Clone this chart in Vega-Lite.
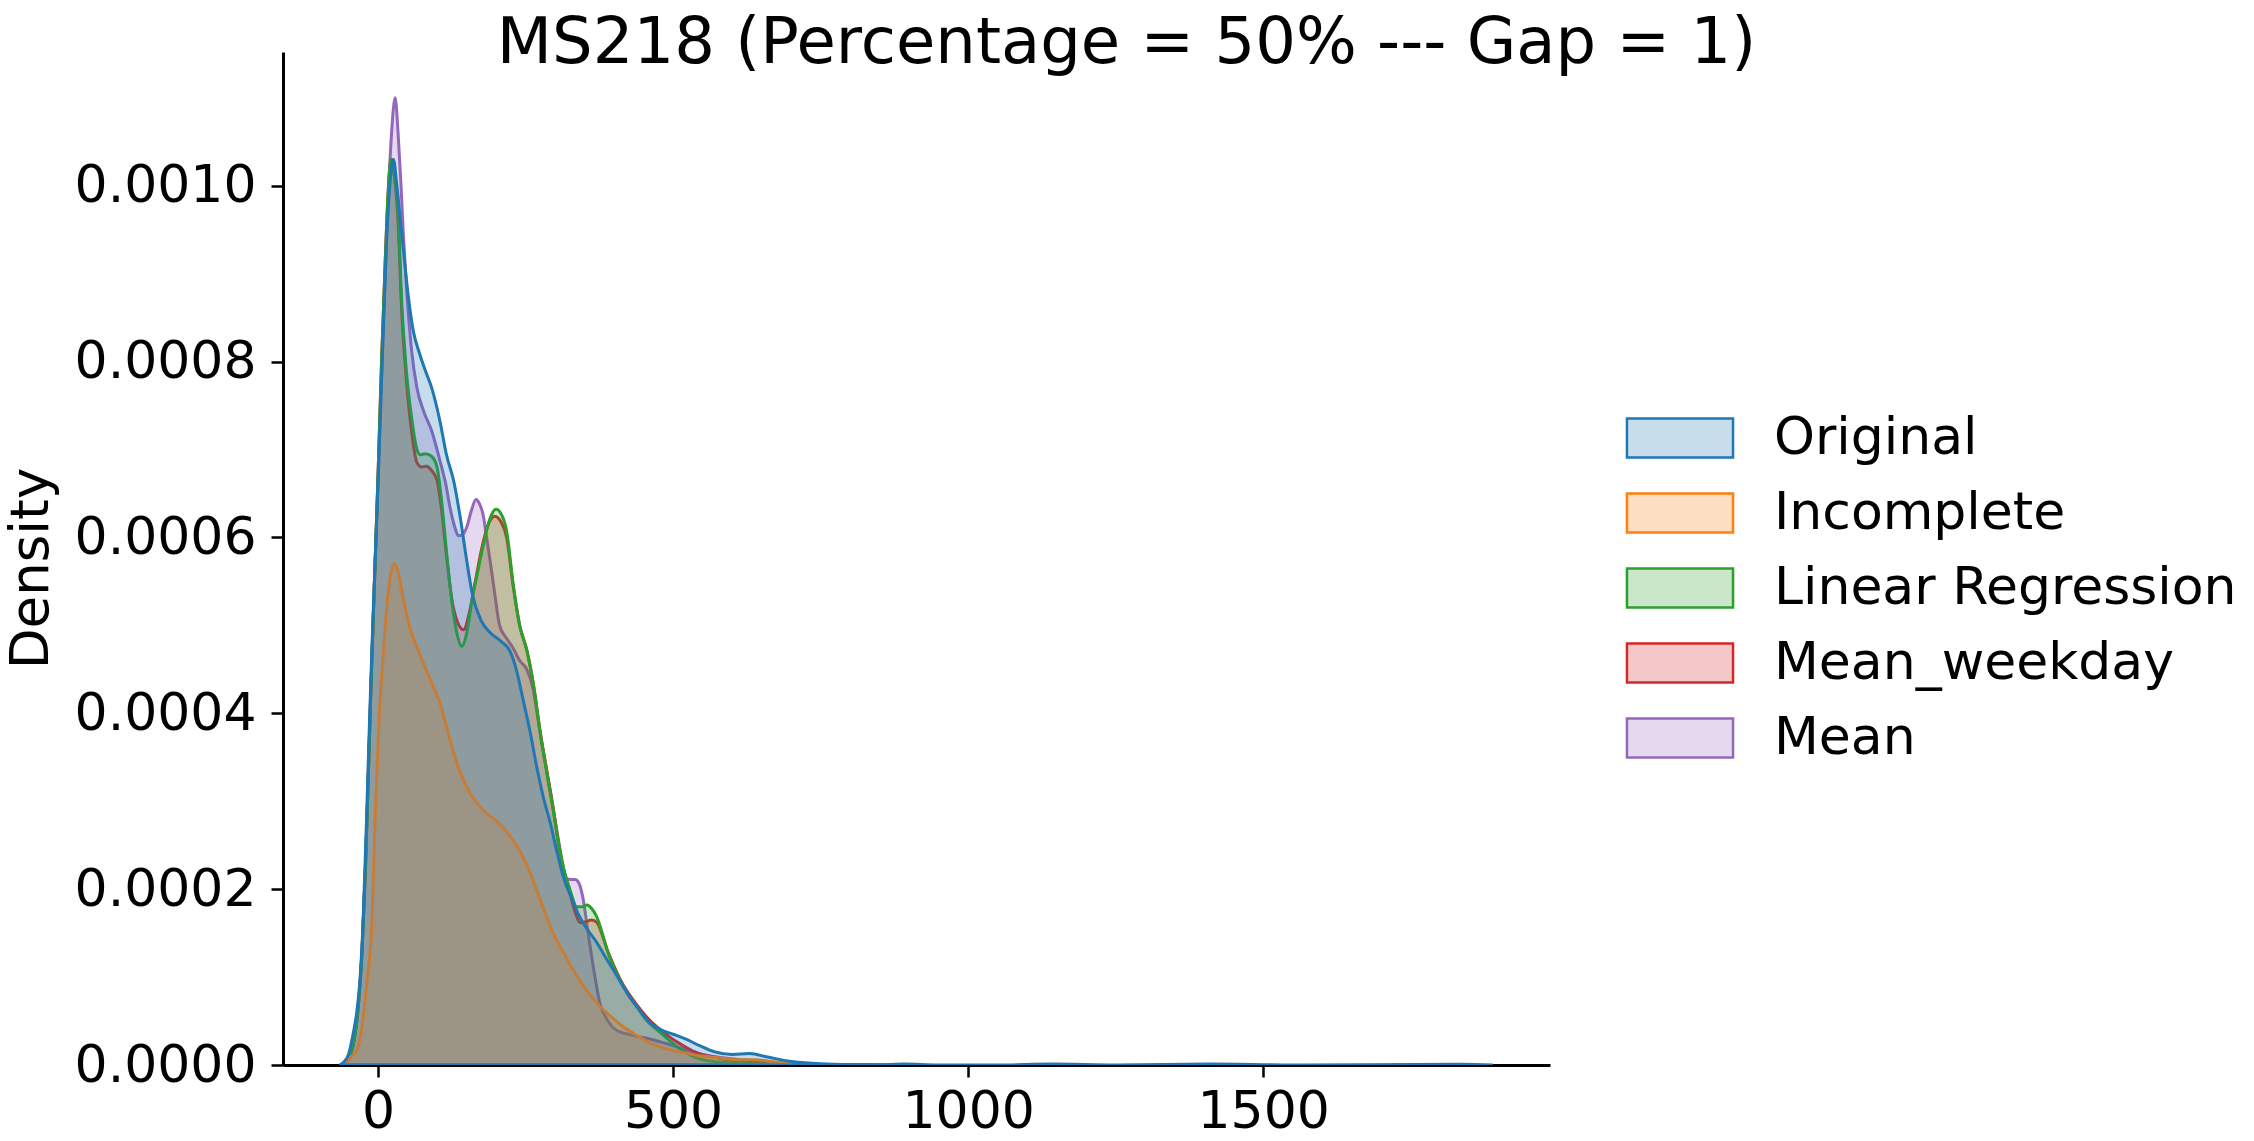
{
  "$schema": "https://vega.github.io/schema/vega-lite/v6.json",
  "autosize": {"type": "none"},
  "padding": {"left": 283, "top": 52, "right": 704, "bottom": 76},
  "width": 1267,
  "height": 1013,
  "background": "white",
  "title": {
    "text": "MS218 (Percentage = 50% --- Gap = 1)",
    "font": "DejaVu Sans",
    "fontSize": 64,
    "fontWeight": "normal",
    "color": "black",
    "anchor": "middle",
    "frame": "group",
    "baseline": "alphabetic",
    "offset": -15,
    "dx": 210,
    "dy": 60
  },
  "data": {
    "values": [
      {"s": "Mean", "x": -62, "d": 0},
      {"s": "Mean", "x": -55, "d": 0.000002},
      {"s": "Mean", "x": -48, "d": 0.00001},
      {"s": "Mean", "x": -40, "d": 0.00003},
      {"s": "Mean", "x": -33, "d": 0.00007},
      {"s": "Mean", "x": -27, "d": 0.00013},
      {"s": "Mean", "x": -21, "d": 0.00023},
      {"s": "Mean", "x": -16, "d": 0.00034},
      {"s": "Mean", "x": -11, "d": 0.00045},
      {"s": "Mean", "x": -6, "d": 0.00055},
      {"s": "Mean", "x": 0, "d": 0.00066},
      {"s": "Mean", "x": 6, "d": 0.00078},
      {"s": "Mean", "x": 12, "d": 0.00089},
      {"s": "Mean", "x": 17, "d": 0.00098},
      {"s": "Mean", "x": 23, "d": 0.00106},
      {"s": "Mean", "x": 29, "d": 0.0011},
      {"s": "Mean", "x": 34, "d": 0.00106},
      {"s": "Mean", "x": 39, "d": 0.001},
      {"s": "Mean", "x": 43, "d": 0.000944},
      {"s": "Mean", "x": 48, "d": 0.000887},
      {"s": "Mean", "x": 57, "d": 0.000812},
      {"s": "Mean", "x": 66, "d": 0.00077},
      {"s": "Mean", "x": 77, "d": 0.000744},
      {"s": "Mean", "x": 91, "d": 0.000721},
      {"s": "Mean", "x": 105, "d": 0.000687},
      {"s": "Mean", "x": 115, "d": 0.00066},
      {"s": "Mean", "x": 122, "d": 0.000634},
      {"s": "Mean", "x": 130, "d": 0.000612},
      {"s": "Mean", "x": 136, "d": 0.000602},
      {"s": "Mean", "x": 143, "d": 0.000603},
      {"s": "Mean", "x": 150, "d": 0.000611},
      {"s": "Mean", "x": 158, "d": 0.00063},
      {"s": "Mean", "x": 166, "d": 0.000643},
      {"s": "Mean", "x": 172, "d": 0.000638},
      {"s": "Mean", "x": 178, "d": 0.000626},
      {"s": "Mean", "x": 184, "d": 0.0006},
      {"s": "Mean", "x": 190, "d": 0.000573},
      {"s": "Mean", "x": 197, "d": 0.00054},
      {"s": "Mean", "x": 206, "d": 0.0005},
      {"s": "Mean", "x": 218, "d": 0.000485},
      {"s": "Mean", "x": 229, "d": 0.000474},
      {"s": "Mean", "x": 240, "d": 0.00046},
      {"s": "Mean", "x": 252, "d": 0.00045},
      {"s": "Mean", "x": 262, "d": 0.00043},
      {"s": "Mean", "x": 275, "d": 0.000377},
      {"s": "Mean", "x": 286, "d": 0.000333},
      {"s": "Mean", "x": 297, "d": 0.00029},
      {"s": "Mean", "x": 306, "d": 0.000255},
      {"s": "Mean", "x": 314, "d": 0.000225},
      {"s": "Mean", "x": 320, "d": 0.000212},
      {"s": "Mean", "x": 326, "d": 0.000211},
      {"s": "Mean", "x": 334, "d": 0.000211},
      {"s": "Mean", "x": 341, "d": 0.000206},
      {"s": "Mean", "x": 347, "d": 0.000191},
      {"s": "Mean", "x": 356, "d": 0.00015},
      {"s": "Mean", "x": 365, "d": 0.000111},
      {"s": "Mean", "x": 376, "d": 0.00007},
      {"s": "Mean", "x": 388, "d": 0.000052},
      {"s": "Mean", "x": 403, "d": 0.00004},
      {"s": "Mean", "x": 430, "d": 0.000034},
      {"s": "Mean", "x": 464, "d": 0.000029},
      {"s": "Mean", "x": 500, "d": 0.000022},
      {"s": "Mean", "x": 550, "d": 0.000012},
      {"s": "Mean", "x": 600, "d": 0.000007},
      {"s": "Mean", "x": 650, "d": 0.000004},
      {"s": "Mean", "x": 700, "d": 0.0000015},
      {"s": "Mean", "x": 800, "d": 0.0000003},
      {"s": "Mean", "x": 900, "d": 0},

      {"s": "Mean_weekday", "x": -62, "d": 0},
      {"s": "Mean_weekday", "x": -55, "d": 0.000002},
      {"s": "Mean_weekday", "x": -48, "d": 0.00001},
      {"s": "Mean_weekday", "x": -40, "d": 0.00003},
      {"s": "Mean_weekday", "x": -33, "d": 0.00007},
      {"s": "Mean_weekday", "x": -27, "d": 0.00013},
      {"s": "Mean_weekday", "x": -21, "d": 0.00023},
      {"s": "Mean_weekday", "x": -16, "d": 0.00034},
      {"s": "Mean_weekday", "x": -11, "d": 0.00045},
      {"s": "Mean_weekday", "x": -6, "d": 0.00055},
      {"s": "Mean_weekday", "x": 0, "d": 0.00067},
      {"s": "Mean_weekday", "x": 6, "d": 0.0008},
      {"s": "Mean_weekday", "x": 12, "d": 0.00091},
      {"s": "Mean_weekday", "x": 17, "d": 0.00099},
      {"s": "Mean_weekday", "x": 22, "d": 0.00103},
      {"s": "Mean_weekday", "x": 28, "d": 0.00101},
      {"s": "Mean_weekday", "x": 34, "d": 0.00096},
      {"s": "Mean_weekday", "x": 40, "d": 0.00086},
      {"s": "Mean_weekday", "x": 48, "d": 0.00078},
      {"s": "Mean_weekday", "x": 57, "d": 0.00072},
      {"s": "Mean_weekday", "x": 66, "d": 0.000685},
      {"s": "Mean_weekday", "x": 74, "d": 0.00068},
      {"s": "Mean_weekday", "x": 82, "d": 0.000681},
      {"s": "Mean_weekday", "x": 91, "d": 0.000676},
      {"s": "Mean_weekday", "x": 100, "d": 0.000665},
      {"s": "Mean_weekday", "x": 108, "d": 0.00063},
      {"s": "Mean_weekday", "x": 116, "d": 0.00058},
      {"s": "Mean_weekday", "x": 125, "d": 0.00053},
      {"s": "Mean_weekday", "x": 134, "d": 0.000505},
      {"s": "Mean_weekday", "x": 145, "d": 0.000495},
      {"s": "Mean_weekday", "x": 155, "d": 0.000515},
      {"s": "Mean_weekday", "x": 165, "d": 0.00055},
      {"s": "Mean_weekday", "x": 175, "d": 0.000585},
      {"s": "Mean_weekday", "x": 187, "d": 0.000615},
      {"s": "Mean_weekday", "x": 198, "d": 0.000624},
      {"s": "Mean_weekday", "x": 208, "d": 0.000618},
      {"s": "Mean_weekday", "x": 218, "d": 0.0006},
      {"s": "Mean_weekday", "x": 229, "d": 0.000545},
      {"s": "Mean_weekday", "x": 240, "d": 0.0005},
      {"s": "Mean_weekday", "x": 252, "d": 0.000472},
      {"s": "Mean_weekday", "x": 264, "d": 0.00043},
      {"s": "Mean_weekday", "x": 275, "d": 0.000378},
      {"s": "Mean_weekday", "x": 286, "d": 0.000335},
      {"s": "Mean_weekday", "x": 297, "d": 0.000292},
      {"s": "Mean_weekday", "x": 305, "d": 0.000256},
      {"s": "Mean_weekday", "x": 314, "d": 0.000223},
      {"s": "Mean_weekday", "x": 325, "d": 0.000195},
      {"s": "Mean_weekday", "x": 335, "d": 0.000172},
      {"s": "Mean_weekday", "x": 342, "d": 0.000162},
      {"s": "Mean_weekday", "x": 352, "d": 0.000163},
      {"s": "Mean_weekday", "x": 362, "d": 0.000165},
      {"s": "Mean_weekday", "x": 371, "d": 0.000162},
      {"s": "Mean_weekday", "x": 380, "d": 0.000148},
      {"s": "Mean_weekday", "x": 388, "d": 0.000132},
      {"s": "Mean_weekday", "x": 399, "d": 0.000114},
      {"s": "Mean_weekday", "x": 410, "d": 0.000098},
      {"s": "Mean_weekday", "x": 424, "d": 0.000082},
      {"s": "Mean_weekday", "x": 439, "d": 0.000068},
      {"s": "Mean_weekday", "x": 456, "d": 0.000054},
      {"s": "Mean_weekday", "x": 473, "d": 0.000043},
      {"s": "Mean_weekday", "x": 490, "d": 0.000034},
      {"s": "Mean_weekday", "x": 507, "d": 0.000026},
      {"s": "Mean_weekday", "x": 525, "d": 0.000019},
      {"s": "Mean_weekday", "x": 540, "d": 0.000014},
      {"s": "Mean_weekday", "x": 577, "d": 0.000008},
      {"s": "Mean_weekday", "x": 615, "d": 0.000004},
      {"s": "Mean_weekday", "x": 660, "d": 0.000002},
      {"s": "Mean_weekday", "x": 720, "d": 0.0000008},
      {"s": "Mean_weekday", "x": 800, "d": 0.0000002},
      {"s": "Mean_weekday", "x": 900, "d": 0},

      {"s": "Linear Regression", "x": -62, "d": 0},
      {"s": "Linear Regression", "x": -55, "d": 0.000002},
      {"s": "Linear Regression", "x": -48, "d": 0.00001},
      {"s": "Linear Regression", "x": -40, "d": 0.00003},
      {"s": "Linear Regression", "x": -33, "d": 0.00007},
      {"s": "Linear Regression", "x": -27, "d": 0.00013},
      {"s": "Linear Regression", "x": -21, "d": 0.00023},
      {"s": "Linear Regression", "x": -16, "d": 0.00034},
      {"s": "Linear Regression", "x": -11, "d": 0.00045},
      {"s": "Linear Regression", "x": -6, "d": 0.00055},
      {"s": "Linear Regression", "x": 0, "d": 0.00067},
      {"s": "Linear Regression", "x": 6, "d": 0.0008},
      {"s": "Linear Regression", "x": 12, "d": 0.00091},
      {"s": "Linear Regression", "x": 17, "d": 0.00099},
      {"s": "Linear Regression", "x": 22, "d": 0.00103},
      {"s": "Linear Regression", "x": 28, "d": 0.00101},
      {"s": "Linear Regression", "x": 34, "d": 0.00097},
      {"s": "Linear Regression", "x": 40, "d": 0.00087},
      {"s": "Linear Regression", "x": 48, "d": 0.00079},
      {"s": "Linear Regression", "x": 57, "d": 0.000736},
      {"s": "Linear Regression", "x": 66, "d": 0.0007},
      {"s": "Linear Regression", "x": 72, "d": 0.000694},
      {"s": "Linear Regression", "x": 80, "d": 0.000695},
      {"s": "Linear Regression", "x": 91, "d": 0.000692},
      {"s": "Linear Regression", "x": 100, "d": 0.00068},
      {"s": "Linear Regression", "x": 108, "d": 0.00064},
      {"s": "Linear Regression", "x": 116, "d": 0.000584},
      {"s": "Linear Regression", "x": 125, "d": 0.000528},
      {"s": "Linear Regression", "x": 134, "d": 0.00049},
      {"s": "Linear Regression", "x": 142, "d": 0.000476},
      {"s": "Linear Regression", "x": 150, "d": 0.00049},
      {"s": "Linear Regression", "x": 161, "d": 0.000536},
      {"s": "Linear Regression", "x": 168, "d": 0.000558},
      {"s": "Linear Regression", "x": 178, "d": 0.00059},
      {"s": "Linear Regression", "x": 190, "d": 0.000622},
      {"s": "Linear Regression", "x": 200, "d": 0.000632},
      {"s": "Linear Regression", "x": 210, "d": 0.000625},
      {"s": "Linear Regression", "x": 218, "d": 0.000607},
      {"s": "Linear Regression", "x": 229, "d": 0.000547},
      {"s": "Linear Regression", "x": 240, "d": 0.0005},
      {"s": "Linear Regression", "x": 252, "d": 0.000472},
      {"s": "Linear Regression", "x": 264, "d": 0.00043},
      {"s": "Linear Regression", "x": 275, "d": 0.000377},
      {"s": "Linear Regression", "x": 286, "d": 0.000333},
      {"s": "Linear Regression", "x": 297, "d": 0.00029},
      {"s": "Linear Regression", "x": 305, "d": 0.000255},
      {"s": "Linear Regression", "x": 314, "d": 0.000225},
      {"s": "Linear Regression", "x": 325, "d": 0.0002},
      {"s": "Linear Regression", "x": 337, "d": 0.00018},
      {"s": "Linear Regression", "x": 346, "d": 0.00018},
      {"s": "Linear Regression", "x": 354, "d": 0.000182},
      {"s": "Linear Regression", "x": 362, "d": 0.000178},
      {"s": "Linear Regression", "x": 371, "d": 0.000168},
      {"s": "Linear Regression", "x": 380, "d": 0.00015},
      {"s": "Linear Regression", "x": 388, "d": 0.000131},
      {"s": "Linear Regression", "x": 399, "d": 0.000112},
      {"s": "Linear Regression", "x": 410, "d": 0.0000966},
      {"s": "Linear Regression", "x": 424, "d": 0.00008},
      {"s": "Linear Regression", "x": 439, "d": 0.0000659},
      {"s": "Linear Regression", "x": 456, "d": 0.00005},
      {"s": "Linear Regression", "x": 473, "d": 0.00004},
      {"s": "Linear Regression", "x": 490, "d": 0.00003},
      {"s": "Linear Regression", "x": 507, "d": 0.0000205},
      {"s": "Linear Regression", "x": 525, "d": 0.000013},
      {"s": "Linear Regression", "x": 540, "d": 0.0000082},
      {"s": "Linear Regression", "x": 570, "d": 0.000004},
      {"s": "Linear Regression", "x": 615, "d": 0.000002},
      {"s": "Linear Regression", "x": 660, "d": 0.000001},
      {"s": "Linear Regression", "x": 720, "d": 0.0000005},
      {"s": "Linear Regression", "x": 800, "d": 0.0000002},
      {"s": "Linear Regression", "x": 900, "d": 0},

      {"s": "Incomplete", "x": -65, "d": 0},
      {"s": "Incomplete", "x": -55, "d": 0.000002},
      {"s": "Incomplete", "x": -45, "d": 0.00001},
      {"s": "Incomplete", "x": -36, "d": 0.000017},
      {"s": "Incomplete", "x": -28, "d": 0.00004},
      {"s": "Incomplete", "x": -19, "d": 0.000093},
      {"s": "Incomplete", "x": -10, "d": 0.000168},
      {"s": "Incomplete", "x": -5, "d": 0.00028},
      {"s": "Incomplete", "x": 2, "d": 0.000396},
      {"s": "Incomplete", "x": 8, "d": 0.00046},
      {"s": "Incomplete", "x": 14, "d": 0.000515},
      {"s": "Incomplete", "x": 20, "d": 0.000552},
      {"s": "Incomplete", "x": 28, "d": 0.00057},
      {"s": "Incomplete", "x": 35, "d": 0.000558},
      {"s": "Incomplete", "x": 43, "d": 0.00053},
      {"s": "Incomplete", "x": 55, "d": 0.000495},
      {"s": "Incomplete", "x": 68, "d": 0.000472},
      {"s": "Incomplete", "x": 80, "d": 0.000452},
      {"s": "Incomplete", "x": 92, "d": 0.000433},
      {"s": "Incomplete", "x": 105, "d": 0.000412},
      {"s": "Incomplete", "x": 116, "d": 0.000385},
      {"s": "Incomplete", "x": 127, "d": 0.000358},
      {"s": "Incomplete", "x": 140, "d": 0.000332},
      {"s": "Incomplete", "x": 156, "d": 0.000309},
      {"s": "Incomplete", "x": 170, "d": 0.000296},
      {"s": "Incomplete", "x": 184, "d": 0.000286},
      {"s": "Incomplete", "x": 198, "d": 0.000279},
      {"s": "Incomplete", "x": 212, "d": 0.00027},
      {"s": "Incomplete", "x": 226, "d": 0.000258},
      {"s": "Incomplete", "x": 240, "d": 0.000244},
      {"s": "Incomplete", "x": 255, "d": 0.000223},
      {"s": "Incomplete", "x": 269, "d": 0.000199},
      {"s": "Incomplete", "x": 283, "d": 0.000173},
      {"s": "Incomplete", "x": 297, "d": 0.00015},
      {"s": "Incomplete", "x": 314, "d": 0.000128},
      {"s": "Incomplete", "x": 331, "d": 0.000108},
      {"s": "Incomplete", "x": 350, "d": 0.000088},
      {"s": "Incomplete", "x": 371, "d": 0.0000705},
      {"s": "Incomplete", "x": 393, "d": 0.000056},
      {"s": "Incomplete", "x": 416, "d": 0.0000432},
      {"s": "Incomplete", "x": 440, "d": 0.000033},
      {"s": "Incomplete", "x": 461, "d": 0.000025},
      {"s": "Incomplete", "x": 490, "d": 0.000018},
      {"s": "Incomplete", "x": 512, "d": 0.0000148},
      {"s": "Incomplete", "x": 540, "d": 0.000011},
      {"s": "Incomplete", "x": 577, "d": 0.0000082},
      {"s": "Incomplete", "x": 610, "d": 0.000006},
      {"s": "Incomplete", "x": 640, "d": 0.000006},
      {"s": "Incomplete", "x": 660, "d": 0.0000045},
      {"s": "Incomplete", "x": 700, "d": 0.0000015},
      {"s": "Incomplete", "x": 750, "d": 0.0000005},
      {"s": "Incomplete", "x": 800, "d": 0.0000002},
      {"s": "Incomplete", "x": 900, "d": 0},

      {"s": "Original", "x": -65, "d": 0},
      {"s": "Original", "x": -60, "d": 0.000002},
      {"s": "Original", "x": -50, "d": 0.000012},
      {"s": "Original", "x": -42, "d": 0.000036},
      {"s": "Original", "x": -36, "d": 0.00006},
      {"s": "Original", "x": -31, "d": 0.000093},
      {"s": "Original", "x": -25, "d": 0.000168},
      {"s": "Original", "x": -19, "d": 0.00029},
      {"s": "Original", "x": -14, "d": 0.0004},
      {"s": "Original", "x": -9, "d": 0.0005},
      {"s": "Original", "x": -4, "d": 0.00059},
      {"s": "Original", "x": 2, "d": 0.0007},
      {"s": "Original", "x": 8, "d": 0.00082},
      {"s": "Original", "x": 14, "d": 0.00093},
      {"s": "Original", "x": 20, "d": 0.001},
      {"s": "Original", "x": 26, "d": 0.00103},
      {"s": "Original", "x": 32, "d": 0.001},
      {"s": "Original", "x": 38, "d": 0.00096},
      {"s": "Original", "x": 44, "d": 0.00092},
      {"s": "Original", "x": 51, "d": 0.000876},
      {"s": "Original", "x": 60, "d": 0.000834},
      {"s": "Original", "x": 70, "d": 0.00081},
      {"s": "Original", "x": 80, "d": 0.00079},
      {"s": "Original", "x": 91, "d": 0.00077},
      {"s": "Original", "x": 105, "d": 0.000732},
      {"s": "Original", "x": 116, "d": 0.000694},
      {"s": "Original", "x": 128, "d": 0.000665},
      {"s": "Original", "x": 140, "d": 0.00062},
      {"s": "Original", "x": 150, "d": 0.000575},
      {"s": "Original", "x": 160, "d": 0.000535},
      {"s": "Original", "x": 175, "d": 0.000505},
      {"s": "Original", "x": 191, "d": 0.000491},
      {"s": "Original", "x": 208, "d": 0.000482},
      {"s": "Original", "x": 224, "d": 0.00047},
      {"s": "Original", "x": 235, "d": 0.000448},
      {"s": "Original", "x": 246, "d": 0.000415},
      {"s": "Original", "x": 258, "d": 0.000378},
      {"s": "Original", "x": 269, "d": 0.000339},
      {"s": "Original", "x": 280, "d": 0.000305},
      {"s": "Original", "x": 292, "d": 0.000275},
      {"s": "Original", "x": 303, "d": 0.000243},
      {"s": "Original", "x": 314, "d": 0.000214},
      {"s": "Original", "x": 328, "d": 0.00019},
      {"s": "Original", "x": 342, "d": 0.000168},
      {"s": "Original", "x": 356, "d": 0.000153},
      {"s": "Original", "x": 371, "d": 0.000139},
      {"s": "Original", "x": 385, "d": 0.000123},
      {"s": "Original", "x": 399, "d": 0.000108},
      {"s": "Original", "x": 413, "d": 0.000092},
      {"s": "Original", "x": 427, "d": 0.000077},
      {"s": "Original", "x": 444, "d": 0.000062},
      {"s": "Original", "x": 461, "d": 0.000048},
      {"s": "Original", "x": 480, "d": 0.00004},
      {"s": "Original", "x": 500, "d": 0.000035},
      {"s": "Original", "x": 520, "d": 0.00003},
      {"s": "Original", "x": 545, "d": 0.000022},
      {"s": "Original", "x": 570, "d": 0.000015},
      {"s": "Original", "x": 600, "d": 0.000012},
      {"s": "Original", "x": 630, "d": 0.000013},
      {"s": "Original", "x": 660, "d": 0.000009},
      {"s": "Original", "x": 700, "d": 0.000004},
      {"s": "Original", "x": 750, "d": 0.0000015},
      {"s": "Original", "x": 800, "d": 0.0000005},
      {"s": "Original", "x": 850, "d": 0.0000002},
      {"s": "Original", "x": 890, "d": 0.000001},
      {"s": "Original", "x": 950, "d": 0},
      {"s": "Original", "x": 1050, "d": 0},
      {"s": "Original", "x": 1141, "d": 0.000001},
      {"s": "Original", "x": 1250, "d": 0},
      {"s": "Original", "x": 1410, "d": 0.000001},
      {"s": "Original", "x": 1550, "d": 0},
      {"s": "Original", "x": 1837, "d": 0.0000008},
      {"s": "Original", "x": 1889, "d": 0}
    ]
  },
  "mark": {
    "type": "area",
    "interpolate": "monotone",
    "fillOpacity": 0.25,
    "strokeOpacity": 1,
    "strokeWidth": 3,
    "clip": true
  },
  "encoding": {
    "x": {
      "field": "x",
      "type": "quantitative",
      "scale": {"domain": [-161, 1986], "nice": false, "zero": false},
      "axis": {"values": [0, 500, 1000, 1500], "format": "d", "title": null, "labelPadding": 9}
    },
    "y": {
      "field": "d",
      "type": "quantitative",
      "stack": null,
      "scale": {"domain": [0, 0.001152], "nice": false},
      "axis": {
        "values": [0, 0.0002, 0.0004, 0.0006, 0.0008, 0.001],
        "format": ".4f",
        "title": "Density",
        "labelPadding": 15,
        "titleAngle": 270,
        "titleBaseline": "alphabetic",
        "titleX": -236,
        "titleY": 516,
        "titleAlign": "center"
      }
    },
    "fill": {
      "field": "s",
      "type": "nominal",
      "scale": {
        "domain": ["Original", "Incomplete", "Linear Regression", "Mean_weekday", "Mean"],
        "range": ["#1f77b4", "#ff7f0e", "#2ca02c", "#d62728", "#9467bd"]
      },
      "legend": {
        "title": null,
        "orient": "none",
        "legendX": 1371,
        "legendY": 360,
        "encode": {
          "symbols": {
            "update": {
              "fillOpacity": {"value": 0.25},
              "stroke": {"scale": "stroke", "field": "value"},
              "strokeOpacity": {"value": 1},
              "strokeWidth": {"value": 2.5},
              "opacity": {"value": 1}
            }
          }
        }
      }
    },
    "stroke": {
      "field": "s",
      "type": "nominal",
      "scale": {
        "domain": ["Original", "Incomplete", "Linear Regression", "Mean_weekday", "Mean"],
        "range": ["#1f77b4", "#ff7f0e", "#2ca02c", "#d62728", "#9467bd"]
      },
      "legend": {
        "title": null,
        "orient": "none",
        "legendX": 1371,
        "legendY": 360,
        "encode": {
          "symbols": {
            "update": {
              "fillOpacity": {"value": 0.25},
              "strokeOpacity": {"value": 1},
              "strokeWidth": {"value": 2.5},
              "opacity": {"value": 1}
            }
          }
        }
      }
    }
  },
  "config": {
    "view": {"stroke": null},
    "font": "DejaVu Sans",
    "axis": {
      "grid": false,
      "zindex": 1,
      "domainColor": "black",
      "domainWidth": 3,
      "tickColor": "black",
      "tickWidth": 2.5,
      "tickSize": 12,
      "labelFont": "DejaVu Sans",
      "labelFontSize": 52,
      "labelColor": "black",
      "labelFlush": false,
      "labelOverlap": false,
      "labelLimit": 0,
      "titleFont": "DejaVu Sans",
      "titleFontSize": 53,
      "titleFontWeight": "normal",
      "titleColor": "black"
    },
    "legend": {
      "padding": 0,
      "symbolType": "M-2.72,-1H2.72V1H-2.72Z",
      "symbolSize": 1521,
      "symbolStrokeWidth": 2.5,
      "labelFont": "DejaVu Sans",
      "labelFontSize": 52,
      "labelColor": "black",
      "labelOffset": 68,
      "labelLimit": 0,
      "rowPadding": 23
    }
  }
}
